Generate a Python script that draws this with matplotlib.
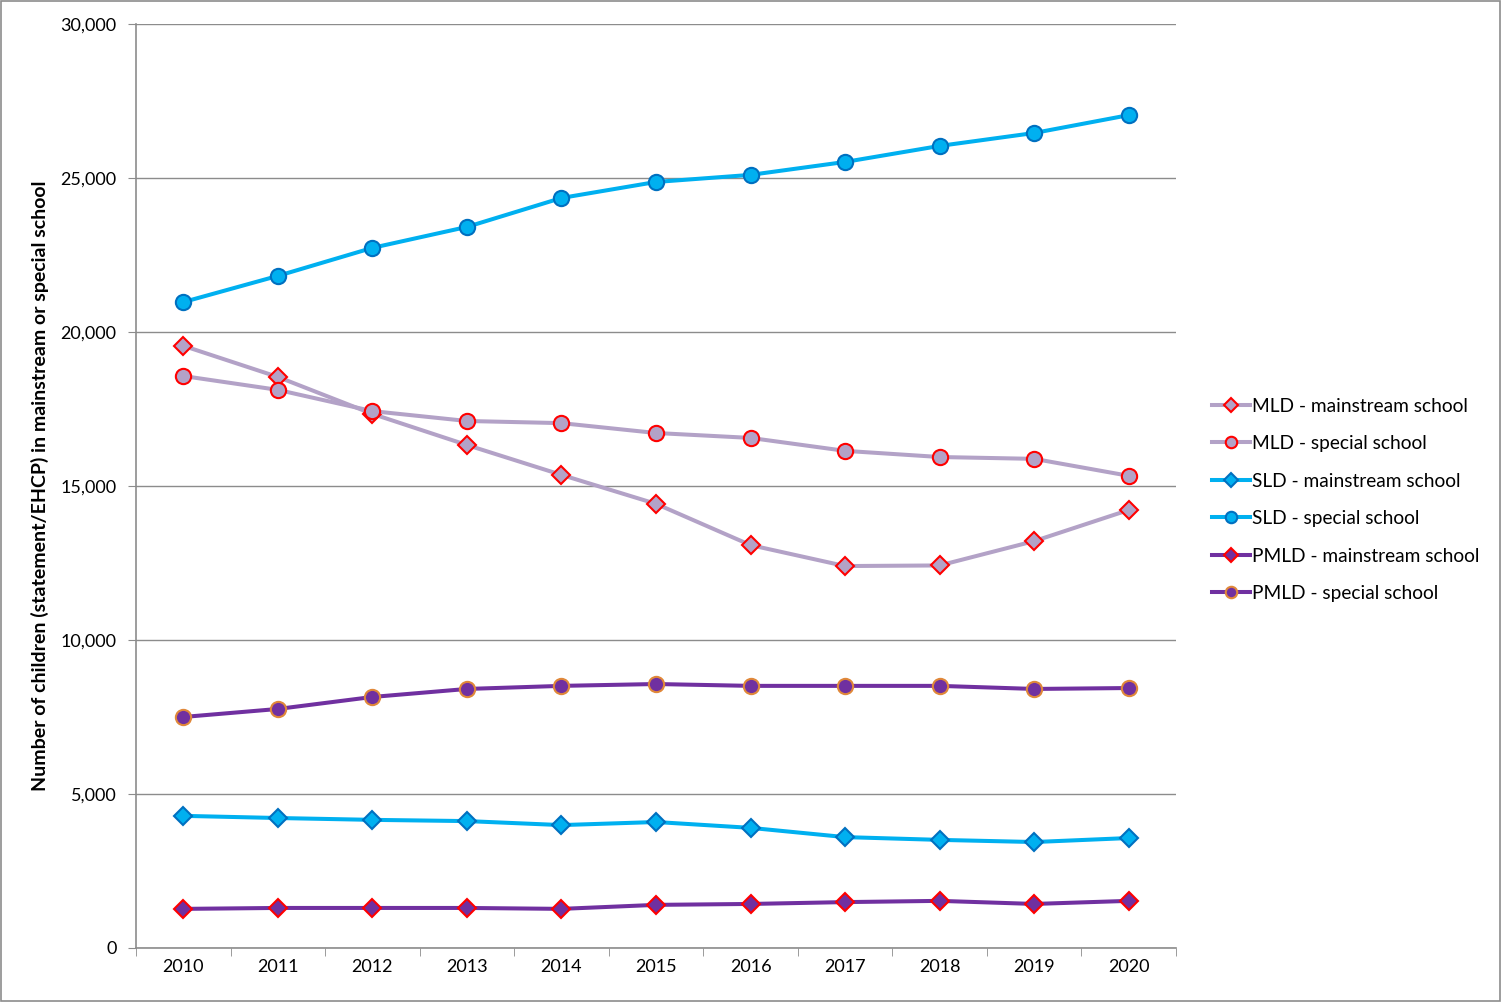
import matplotlib.pyplot as plt
import numpy as np

years = ["2010", "2011", "2012", "2013", "2014", "2015", "2016", "2017", "2018", "2019", "2020"]

mld_main = [19550, 18540, 17340, 16330, 15360, 14420, 13080, 12400, 12420, 13210, 14220]
mld_special = [18570, 18120, 17430, 17110, 17040, 16720, 16560, 16140, 15940, 15880, 15330]
sld_main = [4290, 4220, 4160, 4120, 3990, 4090, 3900, 3600, 3510, 3440, 3570]
sld_special = [20970, 21820, 22730, 23410, 24350, 24870, 25100, 25520, 26040, 26460, 27040]
pmld_main = [1270, 1300, 1300, 1300, 1270, 1400, 1430, 1490, 1530, 1430, 1530]
pmld_special = [7500, 7760, 8150, 8410, 8510, 8570, 8510, 8510, 8510, 8410, 8440]

plt.rcParams["font.family"] = ["Lato", "DejaVu Sans"]

fig = plt.figure(figsize=(15.01, 10.02), dpi=100)
ax = fig.add_axes([0.0906, 0.0539, 0.6929, 0.9222])
fig.patches.append(plt.Rectangle((0.0007, 0.001), 0.9986, 0.998, transform=fig.transFigure,
                                 fill=False, edgecolor="#8c8c8c", linewidth=1.2))

x = np.arange(len(years))
lw = 2.9
series = [
    (mld_main, "MLD - mainstream school", "#B3A2C7", "D", 9, "#B3A2C7", "#FF0000"),
    (mld_special, "MLD - special school", "#B3A2C7", "o", 11, "#B3A2C7", "#FF0000"),
    (sld_main, "SLD - mainstream school", "#00B0F0", "D", 9, "#00B0F0", "#0070C0"),
    (sld_special, "SLD - special school", "#00B0F0", "o", 11, "#00B0F0", "#0070C0"),
    (pmld_main, "PMLD - mainstream school", "#7030A0", "D", 9, "#7030A0", "#FF0000"),
    (pmld_special, "PMLD - special school", "#7030A0", "o", 11, "#7030A0", "#E0883A"),
]
for vals, label, col, mk, ms, fc, ec in series:
    ax.plot(x, vals, color=col, linewidth=lw, marker=mk, markersize=ms,
            markerfacecolor=fc, markeredgecolor=ec, markeredgewidth=1.5, label=label)

ax.set_xlim(-0.5, len(years) - 0.5)
ax.set_ylim(0, 30000)
ax.set_yticks(range(0, 30001, 5000))
ax.set_yticklabels([f"{v:,}" for v in range(0, 30001, 5000)], fontsize=13)
ax.set_xticks(x)
ax.set_xticklabels(years, fontsize=13)
ax.set_xticks(np.arange(-0.5, len(years)), minor=True)
ax.tick_params(axis="x", which="major", length=0, pad=8)
ax.tick_params(axis="x", which="minor", length=6, color="#8c8c8c")
ax.tick_params(axis="y", length=6, color="#8c8c8c", pad=8)
ax.grid(axis="y", color="#8c8c8c", linewidth=1)
ax.set_axisbelow(True)
for s in ["top", "right"]:
    ax.spines[s].set_visible(False)
for s in ["left", "bottom"]:
    ax.spines[s].set_color("#8c8c8c")
    ax.spines[s].set_linewidth(1.2)

ax.set_ylabel("Number of children (statement/EHCP) in mainstream or special school",
              fontsize=14, fontweight="bold", labelpad=8)

ax.legend(loc="center left", bbox_to_anchor=(1.027, 0.485), frameon=False, fontsize=13.8,
          handlelength=2.0, handletextpad=0.1, labelspacing=1.07, borderaxespad=0,
          markerscale=0.75)

fig.savefig("out.png", dpi=100)
